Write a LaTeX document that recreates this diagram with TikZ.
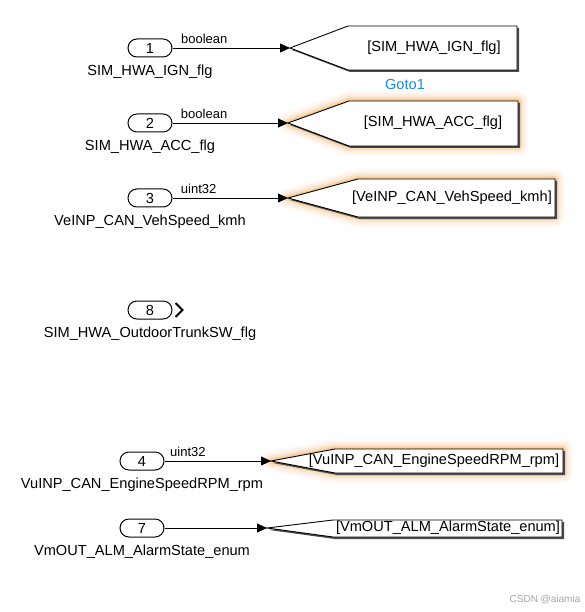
\documentclass[tikz,border=0pt]{standalone}
\usepackage{fontspec}
\setmainfont{Liberation Sans}
\usepackage{xcolor}
\usepackage{tikz}
\usetikzlibrary{arrows.meta, positioning}

\definecolor{gotoblue}{RGB}{20,140,235}
\definecolor{glow}{RGB}{240,150,50}

\begin{document}
\begin{tikzpicture}[x=1pt, y=-1pt, >={Triangle[length=10pt,width=9pt]},
    inport/.style={draw, line width=1pt, rounded corners=9pt, minimum width=44pt,
        minimum height=18pt, inner sep=0pt, font=\fontsize{14.6}{16}\selectfont},
    portname/.style={font=\fontsize{14.6}{16}\selectfont, inner sep=0pt},
    sigtype/.style={font=\fontsize{13}{15}\selectfont, inner sep=0pt, anchor=south west},
    gototext/.style={font=\fontsize{14.6}{16}\selectfont, inner sep=0pt},
    gotobox/.style={draw, fill=white, line width=0.9pt, line join=miter},
    shade/.style={fill=black!70},
    wire/.style={->, line width=0.8pt}]
    \useasboundingbox[fill=white] (0,0) rectangle (584,612);

    % Các khối Inport
    \node[inport] (in1) at (150,48)  {1};
    \node[inport] (in2) at (150,123) {2};
    \node[inport] (in3) at (150,198) {3};
    \node[inport] (in8) at (150,310) {8};
    \node[inport] (in4) at (142,461) {4};
    \node[inport] (in7) at (142,528) {7};

    % Tên các cổng
    \node[portname, below=7pt of in1] (n1) {SIM\_HWA\_IGN\_flg};
    \node[portname, below=7pt of in2] (n2) {SIM\_HWA\_ACC\_flg};
    \node[portname, below=7pt of in3] (n3) {VeINP\_CAN\_VehSpeed\_kmh};
    \node[portname, below=7pt of in8] (n8) {SIM\_HWA\_OutdoorTrunkSW\_flg};
    \node[portname, below=7pt of in4] (n4) {VuINP\_CAN\_EngineSpeedRPM\_rpm};
    \node[portname, below=7pt of in7] (n7) {VmOUT\_ALM\_AlarmState\_enum};

    % Cổng 8 chưa nối
    \draw[line width=2pt, line join=miter]
        ([shift={(3,-7)}]in8.east) -- ([shift={(10,0)}]in8.east) -- ([shift={(3,7)}]in8.east);

    % Goto 1
    \coordinate (g1) at (290,48);
    \fill[shade] (292,50) -- (350,28) -- (519,28) -- (519,72) -- (350,72) -- cycle;
    \draw[gotobox] (g1) -- (348,26) -- (517,26) -- (517,70) -- (348,70) -- cycle;
    \node[gototext] (g1txt) at (434,48) {[SIM\_HWA\_IGN\_flg]};
    \node[gototext, text=gotoblue] (g1name) at (405,84) {Goto1};

    % Goto 2 (được tô sáng)
    \coordinate (g2) at (288,123);
    \foreach \w/\o in {20/0.05,15/0.08,10/0.12,6/0.18,3/0.25}
        \draw[glow, opacity=\o, line width=\w pt, line join=round]
            (g2) -- (349,101) -- (518,101) -- (518,146) -- (349,146) -- cycle;
    \fill[shade] (290,125) -- (351,103) -- (520,103) -- (520,148) -- (351,148) -- cycle;
    \draw[gotobox] (g2) -- (349,101) -- (518,101) -- (518,146) -- (349,146) -- cycle;
    \node[gototext] (g2txt) at (433,123) {[SIM\_HWA\_ACC\_flg]};

    % Goto 3 (được tô sáng)
    \coordinate (g3) at (288,198);
    \foreach \w/\o in {20/0.05,15/0.08,10/0.12,6/0.18,3/0.25}
        \draw[glow, opacity=\o, line width=\w pt, line join=round]
            (g3) -- (358,179) -- (555,179) -- (555,217) -- (358,217) -- cycle;
    \fill[shade] (290,200) -- (360,181) -- (557,181) -- (557,219) -- (360,219) -- cycle;
    \draw[gotobox] (g3) -- (358,179) -- (555,179) -- (555,217) -- (358,217) -- cycle;
    \node[gototext] (g3txt) at (452,198) {[VeINP\_CAN\_VehSpeed\_kmh]};

    % Goto 4 (được tô sáng)
    \coordinate (g4) at (271,461);
    \foreach \w/\o in {20/0.05,15/0.08,10/0.12,6/0.18,3/0.25}
        \draw[glow, opacity=\o, line width=\w pt, line join=round]
            (g4) -- (335,449) -- (563,449) -- (563,473) -- (335,473) -- cycle;
    \fill[shade] (273,463) -- (337,451) -- (565,451) -- (565,475) -- (337,475) -- cycle;
    \draw[gotobox] (g4) -- (335,449) -- (563,449) -- (563,473) -- (335,473) -- cycle;
    \node[gototext] (g4txt) at (434,461) {[VuINP\_CAN\_EngineSpeedRPM\_rpm]};

    % Goto 7
    \coordinate (g7) at (267,528);
    \fill[shade] (269,530) -- (335,522) -- (564,522) -- (564,539) -- (335,539) -- cycle;
    \draw[gotobox] (g7) -- (333,520) -- (562,520) -- (562,537) -- (333,537) -- cycle;
    \node[gototext] (g7txt) at (448,528) {[VmOUT\_ALM\_AlarmState\_enum]};

    % Các đường tín hiệu
    \draw[wire] (in1) -- (g1) node[sigtype, pos=0.07, yshift=4pt] {boolean};
    \draw[wire] (in2) -- (g2) node[sigtype, pos=0.07, yshift=4pt] {boolean};
    \draw[wire] (in3) -- (g3) node[sigtype, pos=0.07, yshift=4pt] {uint32};
    \draw[wire] (in4) -- (g4) node[sigtype, pos=0.05, yshift=4pt] {uint32};
    \draw[wire] (in7) -- (g7);

    \node[font=\fontsize{10}{12}\selectfont, text=black!35] (mark) at (545,600) {CSDN @aiamia};
\end{tikzpicture}
\end{document}
